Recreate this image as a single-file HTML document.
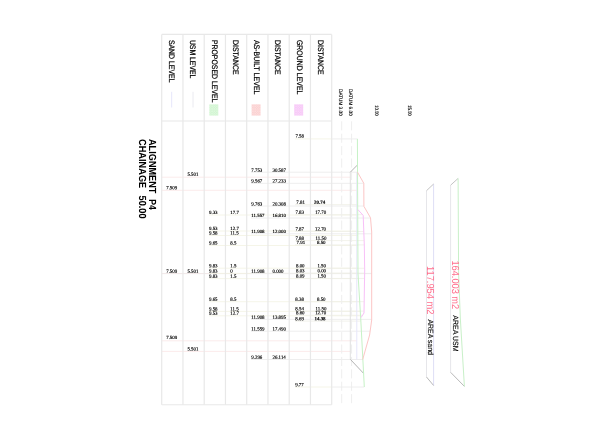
<!DOCTYPE html>
<html><head><meta charset="utf-8"><title>ALIGNMENT P4 CHAINAGE 50.00</title>
<style>
html,body{margin:0;padding:0;background:#fff;}
body{width:600px;height:424px;overflow:hidden;}
svg{display:block;}
text{text-rendering:geometricPrecision;}
.s{font-family:"Liberation Sans",sans-serif;}
.k{stroke:#000;stroke-width:0.1px;}
.h{stroke:#000;stroke-width:0.2px;}
.t{font-family:"Liberation Serif",serif;stroke:#000;stroke-width:0.15px;}
</style></head><body>
<svg width="600" height="424" viewBox="0 0 600 424">
<rect width="600" height="424" fill="#fff"/>
<line x1="161.7" y1="177.2" x2="350.3" y2="177.2" stroke="#fae6e6" stroke-width="0.8" />
<line x1="161.7" y1="351.4" x2="350.3" y2="351.4" stroke="#fae6e6" stroke-width="0.8" />
<line x1="161.7" y1="190.3" x2="356.8" y2="190.3" stroke="#fae6e6" stroke-width="0.8" />
<line x1="161.7" y1="340.8" x2="356.8" y2="340.8" stroke="#fae6e6" stroke-width="0.8" />
<line x1="161.7" y1="273.6" x2="371.7" y2="273.6" stroke="#efe4e4" stroke-width="0.9" />
<line x1="209.0" y1="215.0" x2="357.74" y2="215.0" stroke="#f3f3e2" stroke-width="0.8" />
<line x1="209.0" y1="231.0" x2="357.81" y2="231.0" stroke="#f3f3e2" stroke-width="0.8" />
<line x1="209.0" y1="235.5" x2="357.83" y2="235.5" stroke="#f3f3e2" stroke-width="0.8" />
<line x1="209.0" y1="245.5" x2="357.87" y2="245.5" stroke="#f3f3e2" stroke-width="0.8" />
<line x1="209.0" y1="268.20000000000005" x2="357.98" y2="268.20000000000005" stroke="#f3f3e2" stroke-width="0.8" />
<line x1="209.0" y1="273.40000000000003" x2="358.0" y2="273.40000000000003" stroke="#f3f3e2" stroke-width="0.8" />
<line x1="209.0" y1="278.6" x2="358.3" y2="278.6" stroke="#f3f3e2" stroke-width="0.8" />
<line x1="209.0" y1="301.70000000000005" x2="359.71" y2="301.70000000000005" stroke="#f3f3e2" stroke-width="0.8" />
<line x1="209.0" y1="311.40000000000003" x2="360.3" y2="311.40000000000003" stroke="#f3f3e2" stroke-width="0.8" />
<line x1="209.0" y1="315.8" x2="360.57" y2="315.8" stroke="#f3f3e2" stroke-width="0.8" />
<line x1="251.0" y1="172.2" x2="357.5" y2="172.2" stroke="#ececec" stroke-width="0.9" />
<line x1="251.0" y1="183.3" x2="363.8" y2="183.3" stroke="#ececec" stroke-width="0.9" />
<line x1="251.0" y1="206.0" x2="363.9" y2="206.0" stroke="#ececec" stroke-width="0.9" />
<line x1="251.0" y1="218.0" x2="370.52" y2="218.0" stroke="#ececec" stroke-width="0.9" />
<line x1="251.0" y1="233.8" x2="371.7" y2="233.8" stroke="#ececec" stroke-width="0.9" />
<line x1="251.0" y1="273.4" x2="371.7" y2="273.4" stroke="#ececec" stroke-width="0.9" />
<line x1="251.0" y1="319.4" x2="371.7" y2="319.4" stroke="#ececec" stroke-width="0.9" />
<line x1="251.0" y1="331.2" x2="370.13" y2="331.2" stroke="#ececec" stroke-width="0.9" />
<line x1="251.0" y1="359.5" x2="362.7" y2="359.5" stroke="#ececec" stroke-width="0.9" />
<line x1="295.0" y1="138.9" x2="332" y2="138.9" stroke="#f3f3e2" stroke-width="0.8" />
<line x1="295.0" y1="204.6" x2="357.69" y2="204.6" stroke="#efefe6" stroke-width="0.8" />
<line x1="295.0" y1="214.7" x2="362.56" y2="214.7" stroke="#efefe6" stroke-width="0.8" />
<line x1="295.0" y1="231.5" x2="363.8" y2="231.5" stroke="#efefe6" stroke-width="0.8" />
<line x1="295.0" y1="240.6" x2="364.14" y2="240.6" stroke="#efefe6" stroke-width="0.8" />
<line x1="295.0" y1="244.9" x2="364.3" y2="244.9" stroke="#efefe6" stroke-width="0.8" />
<line x1="295.0" y1="268.25" x2="364.67" y2="268.25" stroke="#efefe6" stroke-width="0.8" />
<line x1="295.0" y1="273.3" x2="364.65" y2="273.3" stroke="#efefe6" stroke-width="0.8" />
<line x1="295.0" y1="278.45000000000005" x2="364.56" y2="278.45000000000005" stroke="#efefe6" stroke-width="0.8" />
<line x1="295.0" y1="301.65000000000003" x2="364.18" y2="301.65000000000003" stroke="#efefe6" stroke-width="0.8" />
<line x1="295.0" y1="311.1" x2="364.03" y2="311.1" stroke="#efefe6" stroke-width="0.8" />
<line x1="295.0" y1="315.3" x2="362.5" y2="315.3" stroke="#efefe6" stroke-width="0.8" />
<line x1="295.0" y1="321.1" x2="360.86" y2="321.1" stroke="#efefe6" stroke-width="0.8" />
<line x1="295.0" y1="387.0" x2="332" y2="387.0" stroke="#f3f3e2" stroke-width="0.8" />
<line x1="161.7" y1="34.4" x2="161.7" y2="404.7" stroke="#e8e8e8" stroke-width="1.2" />
<line x1="182.95" y1="34.4" x2="182.95" y2="404.7" stroke="#e8e8e8" stroke-width="1.2" />
<line x1="204.2" y1="34.4" x2="204.2" y2="404.7" stroke="#e8e8e8" stroke-width="1.2" />
<line x1="225.45" y1="34.4" x2="225.45" y2="404.7" stroke="#e8e8e8" stroke-width="1.2" />
<line x1="246.7" y1="34.4" x2="246.7" y2="404.7" stroke="#e8e8e8" stroke-width="1.2" />
<line x1="267.95" y1="34.4" x2="267.95" y2="404.7" stroke="#e8e8e8" stroke-width="1.2" />
<line x1="289.2" y1="34.4" x2="289.2" y2="404.7" stroke="#e8e8e8" stroke-width="1.2" />
<line x1="310.45" y1="34.4" x2="310.45" y2="404.7" stroke="#e8e8e8" stroke-width="1.2" />
<line x1="331.7" y1="34.4" x2="331.7" y2="404.7" stroke="#e8e8e8" stroke-width="1.2" />
<line x1="161.7" y1="34.4" x2="331.7" y2="34.4" stroke="#e8e8e8" stroke-width="1.1" />
<line x1="161.7" y1="121.0" x2="331.7" y2="121.0" stroke="#e8e8e8" stroke-width="1.1" />
<line x1="161.7" y1="404.7" x2="331.7" y2="404.7" stroke="#e8e8e8" stroke-width="1.1" />
<text class="s h" transform="translate(169.0,39.9) rotate(90)" font-size="8.0" fill="#000" font-weight="normal" text-anchor="start" textLength="42.6" lengthAdjust="spacingAndGlyphs" xml:space="preserve">SAND LEVEL</text>
<text class="s h" transform="translate(190.25,39.9) rotate(90)" font-size="8.0" fill="#000" font-weight="normal" text-anchor="start" textLength="38.5" lengthAdjust="spacingAndGlyphs" xml:space="preserve">USM LEVEL</text>
<text class="s h" transform="translate(211.5,39.9) rotate(90)" font-size="8.0" fill="#000" font-weight="normal" text-anchor="start" textLength="62.6" lengthAdjust="spacingAndGlyphs" xml:space="preserve">PROPOSED LEVEL</text>
<text class="s h" transform="translate(232.75,39.9) rotate(90)" font-size="8.0" fill="#000" font-weight="normal" text-anchor="start" textLength="34.8" lengthAdjust="spacingAndGlyphs" xml:space="preserve">DISTANCE</text>
<text class="s h" transform="translate(254.0,39.9) rotate(90)" font-size="8.0" fill="#000" font-weight="normal" text-anchor="start" textLength="54.6" lengthAdjust="spacingAndGlyphs" xml:space="preserve">AS-BUILT LEVEL</text>
<text class="s h" transform="translate(275.25,39.9) rotate(90)" font-size="8.0" fill="#000" font-weight="normal" text-anchor="start" textLength="34.8" lengthAdjust="spacingAndGlyphs" xml:space="preserve">DISTANCE</text>
<text class="s h" transform="translate(296.5,39.9) rotate(90)" font-size="8.0" fill="#000" font-weight="normal" text-anchor="start" textLength="54.6" lengthAdjust="spacingAndGlyphs" xml:space="preserve">GROUND LEVEL</text>
<text class="s h" transform="translate(317.75,39.9) rotate(90)" font-size="8.0" fill="#000" font-weight="normal" text-anchor="start" textLength="34.8" lengthAdjust="spacingAndGlyphs" xml:space="preserve">DISTANCE</text>
<defs><pattern id="h0" width="2.4" height="2.4" patternUnits="userSpaceOnUse"><rect width="2.4" height="2.4" fill="#d0f5d0"/><rect x="0.3" y="0.3" width="1.1" height="1.1" fill="#fff" opacity="0.55"/><rect x="1.5" y="1.5" width="0.8" height="0.8" fill="#fff" opacity="0.4"/></pattern><pattern id="h1" width="2.4" height="2.4" patternUnits="userSpaceOnUse"><rect width="2.4" height="2.4" fill="#fbcfcf"/><rect x="0.3" y="0.3" width="1.1" height="1.1" fill="#fff" opacity="0.55"/><rect x="1.5" y="1.5" width="0.8" height="0.8" fill="#fff" opacity="0.4"/></pattern><pattern id="h2" width="2.4" height="2.4" patternUnits="userSpaceOnUse"><rect width="2.4" height="2.4" fill="#f7c6f7"/><rect x="0.3" y="0.3" width="1.1" height="1.1" fill="#fff" opacity="0.55"/><rect x="1.5" y="1.5" width="0.8" height="0.8" fill="#fff" opacity="0.4"/></pattern></defs>
<rect x="209.3" y="104.3" width="9" height="11.3" fill="url(#h0)"/>
<rect x="251.6" y="104.3" width="9" height="11.3" fill="url(#h1)"/>
<rect x="294.2" y="104.3" width="9" height="11.3" fill="url(#h2)"/>
<line x1="171.7" y1="91.8" x2="171.7" y2="107.5" stroke="#e6e6fb" stroke-width="1" />
<line x1="193.0" y1="91.8" x2="193.0" y2="107.5" stroke="#eaeaf0" stroke-width="1" />
<text class="s" transform="translate(149.4,139.0) rotate(90)" font-size="10.3" font-weight="bold" xml:space="preserve"><tspan x="0" textLength="57.0" lengthAdjust="spacingAndGlyphs">ALIGNMENT </tspan><tspan x="60.2" textLength="10.5" lengthAdjust="spacingAndGlyphs">P4</tspan></text>
<text class="s" transform="translate(139.3,139.0) rotate(90)" font-size="10.3" font-weight="bold" xml:space="preserve"><tspan x="0" textLength="51.8" lengthAdjust="spacingAndGlyphs">CHAINAGE </tspan><tspan x="56.6" textLength="22.9" lengthAdjust="spacingAndGlyphs">50.00</tspan></text>
<text class="s k" transform="translate(338.8,89.0) rotate(90)" font-size="5" fill="#000" font-weight="normal" text-anchor="start" textLength="26.7" lengthAdjust="spacingAndGlyphs" xml:space="preserve">DATUM 3.00</text>
<text class="s k" transform="translate(348.9,89.0) rotate(90)" font-size="5" fill="#000" font-weight="normal" text-anchor="start" textLength="26.7" lengthAdjust="spacingAndGlyphs" xml:space="preserve">DATUM 6.00</text>
<text class="s k" transform="translate(375.4,105.2) rotate(90)" font-size="5" fill="#000" font-weight="normal" text-anchor="start" textLength="10.5" lengthAdjust="spacingAndGlyphs" xml:space="preserve">10.00</text>
<text class="s k" transform="translate(408.4,105.2) rotate(90)" font-size="5" fill="#000" font-weight="normal" text-anchor="start" textLength="10.5" lengthAdjust="spacingAndGlyphs" xml:space="preserve">15.00</text>
<text class="t" transform="translate(166.2,189.26) rotate(0.05)" font-size="4.9" text-anchor="start" font-weight="normal">7.509</text>
<text class="t" transform="translate(166.2,272.66) rotate(0.05)" font-size="4.9" text-anchor="start" font-weight="normal">7.509</text>
<text class="t" transform="translate(166.2,338.96) rotate(0.05)" font-size="4.9" text-anchor="start" font-weight="normal">7.509</text>
<text class="t" transform="translate(187.4,175.86) rotate(0.05)" font-size="4.9" text-anchor="start" font-weight="normal">5.501</text>
<text class="t" transform="translate(187.4,272.66) rotate(0.05)" font-size="4.9" text-anchor="start" font-weight="normal">5.501</text>
<text class="t" transform="translate(187.4,350.56) rotate(0.05)" font-size="4.9" text-anchor="start" font-weight="normal">5.501</text>
<text class="t" transform="translate(209.0,214.06) rotate(0.05)" font-size="4.9" text-anchor="start" font-weight="normal">9.33</text>
<text class="t" transform="translate(230.3,214.06) rotate(0.05)" font-size="4.9" text-anchor="start" font-weight="normal">17.7</text>
<text class="t" transform="translate(209.0,230.06) rotate(0.05)" font-size="4.9" text-anchor="start" font-weight="normal">9.53</text>
<text class="t" transform="translate(230.3,230.06) rotate(0.05)" font-size="4.9" text-anchor="start" font-weight="normal">12.7</text>
<text class="t" transform="translate(209.0,234.56) rotate(0.05)" font-size="4.9" text-anchor="start" font-weight="normal">9.58</text>
<text class="t" transform="translate(230.3,234.56) rotate(0.05)" font-size="4.9" text-anchor="start" font-weight="normal">11.5</text>
<text class="t" transform="translate(209.0,244.56) rotate(0.05)" font-size="4.9" text-anchor="start" font-weight="normal">9.65</text>
<text class="t" transform="translate(230.3,244.56) rotate(0.05)" font-size="4.9" text-anchor="start" font-weight="normal">8.5</text>
<text class="t" transform="translate(209.0,267.26) rotate(0.05)" font-size="4.9" text-anchor="start" font-weight="normal">9.83</text>
<text class="t" transform="translate(230.3,267.26) rotate(0.05)" font-size="4.9" text-anchor="start" font-weight="normal">1.5</text>
<text class="t" transform="translate(209.0,272.46) rotate(0.05)" font-size="4.9" text-anchor="start" font-weight="normal">9.83</text>
<text class="t" transform="translate(230.3,272.46) rotate(0.05)" font-size="4.9" text-anchor="start" font-weight="normal">0</text>
<text class="t" transform="translate(209.0,277.66) rotate(0.05)" font-size="4.9" text-anchor="start" font-weight="normal">9.83</text>
<text class="t" transform="translate(230.3,277.66) rotate(0.05)" font-size="4.9" text-anchor="start" font-weight="normal">1.5</text>
<text class="t" transform="translate(209.0,300.76) rotate(0.05)" font-size="4.9" text-anchor="start" font-weight="normal">9.65</text>
<text class="t" transform="translate(230.3,300.76) rotate(0.05)" font-size="4.9" text-anchor="start" font-weight="normal">8.5</text>
<text class="t" transform="translate(209.0,310.46) rotate(0.05)" font-size="4.9" text-anchor="start" font-weight="normal">9.58</text>
<text class="t" transform="translate(230.3,310.46) rotate(0.05)" font-size="4.9" text-anchor="start" font-weight="normal">11.5</text>
<text class="t" transform="translate(209.0,314.86) rotate(0.05)" font-size="4.9" text-anchor="start" font-weight="normal">9.53</text>
<text class="t" transform="translate(230.3,314.86) rotate(0.05)" font-size="4.9" text-anchor="start" font-weight="normal">12.7</text>
<text class="t" transform="translate(251.3,171.66) rotate(0.05)" font-size="4.9" text-anchor="start" font-weight="normal">7.753</text>
<text class="t" transform="translate(272.5,171.66) rotate(0.05)" font-size="4.9" text-anchor="start" font-weight="normal">30.587</text>
<text class="t" transform="translate(251.3,182.46) rotate(0.05)" font-size="4.9" text-anchor="start" font-weight="normal">9.567</text>
<text class="t" transform="translate(272.5,182.46) rotate(0.05)" font-size="4.9" text-anchor="start" font-weight="normal">27.233</text>
<text class="t" transform="translate(251.3,205.46) rotate(0.05)" font-size="4.9" text-anchor="start" font-weight="normal">9.763</text>
<text class="t" transform="translate(272.5,205.46) rotate(0.05)" font-size="4.9" text-anchor="start" font-weight="normal">20.308</text>
<text class="t" transform="translate(251.3,217.06) rotate(0.05)" font-size="4.9" text-anchor="start" font-weight="normal">11.557</text>
<text class="t" transform="translate(272.5,217.06) rotate(0.05)" font-size="4.9" text-anchor="start" font-weight="normal">16.810</text>
<text class="t" transform="translate(251.3,232.96) rotate(0.05)" font-size="4.9" text-anchor="start" font-weight="normal">11.908</text>
<text class="t" transform="translate(272.5,232.96) rotate(0.05)" font-size="4.9" text-anchor="start" font-weight="normal">12.000</text>
<text class="t" transform="translate(251.3,272.66) rotate(0.05)" font-size="4.9" text-anchor="start" font-weight="normal">11.908</text>
<text class="t" transform="translate(272.5,272.66) rotate(0.05)" font-size="4.9" text-anchor="start" font-weight="normal">0.000</text>
<text class="t" transform="translate(251.3,318.66) rotate(0.05)" font-size="4.9" text-anchor="start" font-weight="normal">11.908</text>
<text class="t" transform="translate(272.5,318.66) rotate(0.05)" font-size="4.9" text-anchor="start" font-weight="normal">13.895</text>
<text class="t" transform="translate(251.3,330.46) rotate(0.05)" font-size="4.9" text-anchor="start" font-weight="normal">11.559</text>
<text class="t" transform="translate(272.5,330.46) rotate(0.05)" font-size="4.9" text-anchor="start" font-weight="normal">17.490</text>
<text class="t" transform="translate(251.3,358.76) rotate(0.05)" font-size="4.9" text-anchor="start" font-weight="normal">9.296</text>
<text class="t" transform="translate(272.5,358.76) rotate(0.05)" font-size="4.9" text-anchor="start" font-weight="normal">26.114</text>
<text class="t" transform="translate(295.4,137.46) rotate(0.05)" font-size="4.9" text-anchor="start" font-weight="normal">7.58</text>
<text class="t" transform="translate(296.3,203.66) rotate(0.05)" font-size="4.9" text-anchor="start" font-weight="normal">7.81</text>
<text class="t" transform="translate(314.1,203.66) rotate(0.05)" font-size="4.9" text-anchor="start" font-weight="bold">20.74</text>
<text class="t" transform="translate(295.4,213.76) rotate(0.05)" font-size="4.9" text-anchor="start" font-weight="normal">7.83</text>
<text class="t" transform="translate(315.15000000000003,213.76) rotate(0.05)" font-size="4.9" text-anchor="start" font-weight="normal">17.70</text>
<text class="t" transform="translate(295.4,230.56) rotate(0.05)" font-size="4.9" text-anchor="start" font-weight="normal">7.87</text>
<text class="t" transform="translate(315.05,230.56) rotate(0.05)" font-size="4.9" text-anchor="start" font-weight="normal">12.70</text>
<text class="t" transform="translate(295.4,239.66) rotate(0.05)" font-size="4.9" text-anchor="start" font-weight="normal">7.88</text>
<text class="t" transform="translate(315.55,239.66) rotate(0.05)" font-size="4.9" text-anchor="start" font-weight="normal">11.50</text>
<text class="t" transform="translate(296.6,243.96) rotate(0.05)" font-size="4.9" text-anchor="start" font-weight="normal">7.91</text>
<text class="t" transform="translate(317.0,243.96) rotate(0.05)" font-size="4.9" text-anchor="start" font-weight="normal">8.50</text>
<text class="t" transform="translate(296.0,267.31) rotate(0.05)" font-size="4.9" text-anchor="start" font-weight="normal">8.00</text>
<text class="t" transform="translate(317.45,267.31) rotate(0.05)" font-size="4.9" text-anchor="start" font-weight="normal">1.50</text>
<text class="t" transform="translate(296.0,272.36) rotate(0.05)" font-size="4.9" text-anchor="start" font-weight="normal">8.03</text>
<text class="t" transform="translate(317.5,272.36) rotate(0.05)" font-size="4.9" text-anchor="start" font-weight="normal">0.00</text>
<text class="t" transform="translate(296.0,277.51) rotate(0.05)" font-size="4.9" text-anchor="start" font-weight="normal">8.09</text>
<text class="t" transform="translate(317.45,277.51) rotate(0.05)" font-size="4.9" text-anchor="start" font-weight="normal">1.50</text>
<text class="t" transform="translate(295.3,300.71) rotate(0.05)" font-size="4.9" text-anchor="start" font-weight="normal">8.38</text>
<text class="t" transform="translate(317.0,300.71) rotate(0.05)" font-size="4.9" text-anchor="start" font-weight="normal">8.50</text>
<text class="t" transform="translate(295.3,310.16) rotate(0.05)" font-size="4.9" text-anchor="start" font-weight="normal">8.54</text>
<text class="t" transform="translate(315.55,310.16) rotate(0.05)" font-size="4.9" text-anchor="start" font-weight="normal">11.50</text>
<text class="t" transform="translate(296.0,314.36) rotate(0.05)" font-size="4.9" text-anchor="start" font-weight="normal">8.60</text>
<text class="t" transform="translate(315.15000000000003,314.36) rotate(0.05)" font-size="4.9" text-anchor="start" font-weight="normal">12.70</text>
<text class="t" transform="translate(295.3,320.16) rotate(0.05)" font-size="4.9" text-anchor="start" font-weight="normal">8.69</text>
<text class="t" transform="translate(314.55,320.16) rotate(0.05)" font-size="4.9" text-anchor="start" font-weight="bold">14.38</text>
<text class="t" transform="translate(295.2,386.36) rotate(0.05)" font-size="4.9" text-anchor="start" font-weight="normal">9.77</text>
<line x1="341.7" y1="121.3" x2="341.7" y2="404" stroke="#eeeeee" stroke-width="1" stroke-dasharray="9.1 3.3"/>
<line x1="351.6" y1="121.3" x2="351.6" y2="404" stroke="#eeeeee" stroke-width="1" stroke-dasharray="9.1 3.3"/>
<line x1="332" y1="138.9" x2="357.5" y2="138.9" stroke="#ececec" stroke-width="0.9" />
<line x1="332" y1="387.0" x2="364.3" y2="387.0" stroke="#ececec" stroke-width="0.9" />
<line x1="350.3" y1="172.2" x2="350.3" y2="359.5" stroke="#e0e0e0" stroke-width="1" />
<polyline points="350.3,172.2 357.3,165.1" fill="none" stroke="#b4b4b4" stroke-width="1" />
<polyline points="350.5,359.5 363.4,373.2" fill="none" stroke="#b4b4b4" stroke-width="1" />
<line x1="356.8" y1="172.2" x2="356.8" y2="359.5" stroke="#e6e6fa" stroke-width="1" />
<polyline points="357.4,138.9 358.0,273.6 360.7,318 364.3,387.0" fill="none" stroke="#c6f2c6" stroke-width="1" />
<polyline points="357.5,172.2 363.8,183.3 363.9,206.3 370.5,217.8 371.7,232 371.7,320 369.6,335 362.7,359.5" fill="none" stroke="#fcc6c6" stroke-width="1" />
<polyline points="357.9,209.6 363.2,215.4 364.3,245 364.7,270 364.0,313 361.0,317.6" fill="none" stroke="#f8c0f8" stroke-width="1" />
<line x1="426.5" y1="190.7" x2="426.5" y2="377" stroke="#e6e6ea" stroke-width="1" />
<line x1="433.6" y1="184" x2="433.6" y2="385.5" stroke="#dedef6" stroke-width="1" />
<polyline points="426.5,190.7 433.6,184" fill="none" stroke="#c4c4c4" stroke-width="1" />
<polyline points="426.5,377 433.6,385.5" fill="none" stroke="#b8b8b8" stroke-width="1" />
<line x1="450.6" y1="185.2" x2="450.6" y2="372.3" stroke="#e6e6ea" stroke-width="1" />
<polyline points="450.6,185.2 458.1,178.4" fill="none" stroke="#c4c4c4" stroke-width="1" />
<polyline points="450.6,372.3 464.4,386.4" fill="none" stroke="#b8b8b8" stroke-width="1" />
<polyline points="458.1,178.4 458.6,273.6 460.3,318 464.4,386.4" fill="none" stroke="#c8f0c8" stroke-width="1" />
<text class="s" transform="translate(451.8,260.4) rotate(90)" font-size="10.2" fill="#ff6e8c" font-weight="normal" text-anchor="start" textLength="48.8" lengthAdjust="spacingAndGlyphs" xml:space="preserve">164.003 m2</text>
<text class="s" transform="translate(427.3,266.0) rotate(90)" font-size="10.2" fill="#ff6e8c" font-weight="normal" text-anchor="start" textLength="48.5" lengthAdjust="spacingAndGlyphs" xml:space="preserve">117.954 m2</text>
<text class="s k" transform="translate(453.1,315.3) rotate(90)" font-size="7.6" fill="#000" font-weight="normal" text-anchor="start" textLength="36.3" lengthAdjust="spacingAndGlyphs" xml:space="preserve">AREA USM</text>
<text class="s k" transform="translate(427.6,319.4) rotate(90)" font-size="7.6" fill="#000" font-weight="normal" text-anchor="start" textLength="35.5" lengthAdjust="spacingAndGlyphs" xml:space="preserve">AREA sand</text>
</svg>
</body></html>
